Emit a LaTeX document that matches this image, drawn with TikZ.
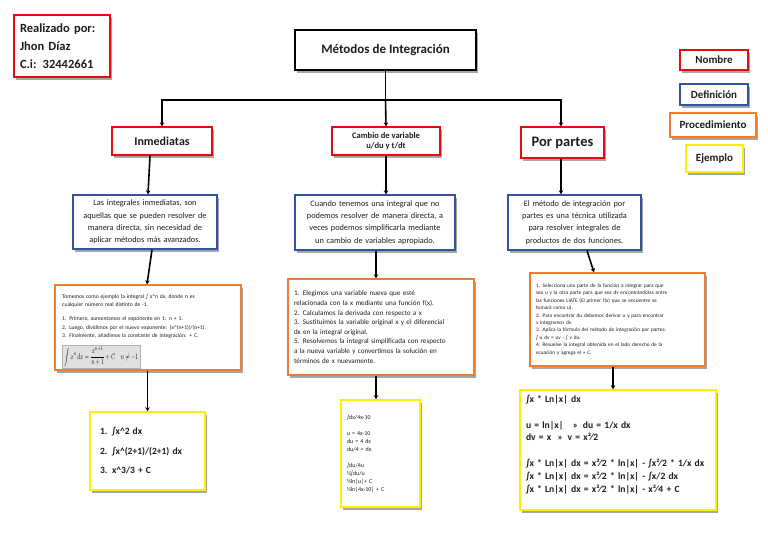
\documentclass[tikz,border=0pt]{standalone}
\usepackage{fontspec}
\setmainfont{Carlito}
\usetikzlibrary{shadows,arrows.meta}
\definecolor{cred}{RGB}{226,12,18}
\definecolor{cblue}{RGB}{47,85,160}
\definecolor{corange}{RGB}{237,125,49}
\definecolor{cyellow}{RGB}{255,240,0}
\definecolor{ctext}{RGB}{30,30,30}
\tikzset{
  box/.style={draw, fill=white, line width=1.3pt, inner sep=0pt, text=ctext,
    drop shadow={shadow xshift=2pt, shadow yshift=-2.5pt, fill=black, opacity=0.35}},
  redbox/.style={box, draw=cred},
  bluebox/.style={box, draw=cblue},
  orangebox/.style={box, draw=corange},
  yellowbox/.style={box, draw=cyellow, line width=1.6pt},
  blackbox/.style={box, draw=black, line width=1.6pt},
  formbox/.style={draw=black!30, fill=black!12, inner sep=2pt, line width=0.4pt},
  arr/.style={line width=1.6pt, -{Stealth[length=4pt,width=4.5pt]}},
  ln/.style={line width=1.8pt},
}
\begin{document}
\begin{tikzpicture}[x=1pt,y=-1pt]
\useasboundingbox (0,0) rectangle (768,542);
% author
\node[redbox, minimum width=96pt, minimum height=62pt, text width=84pt, align=left,
  font=\fontsize{12.5}{18}\selectfont\bfseries] (author) at (62,46)
  {Realizado por:\\Jhon Díaz\\C.i: 32442661};
% title
\node[blackbox, minimum width=181pt, minimum height=40pt, font=\fontsize{13}{15}\selectfont\bfseries]
  (title) at (385.5,50) {Métodos de Integración};
% legend
\node[redbox, minimum width=68pt, minimum height=20pt, font=\fontsize{11}{13}\selectfont\bfseries] (lnom) at (714,60) {Nombre};
\node[bluebox, minimum width=68pt, minimum height=21pt, font=\fontsize{11}{13}\selectfont\bfseries] (ldef) at (714,94.5) {Definición};
\node[orangebox, minimum width=86pt, minimum height=24pt, font=\fontsize{11}{13}\selectfont\bfseries] (lproc) at (713,125) {Procedimiento};
\node[yellowbox, minimum width=57pt, minimum height=27pt, font=\fontsize{11}{13}\selectfont\bfseries] (lej) at (714.5,158.5) {Ejemplo};
% names
\node[redbox, minimum width=100pt, minimum height=28pt, font=\fontsize{12}{14}\selectfont\bfseries] (inm) at (162,141) {Inmediatas};
\node[redbox, minimum width=108pt, minimum height=28pt, align=center, font=\fontsize{8.5}{10.5}\selectfont\bfseries] (cam) at (386,141) {Cambio de variable\\u/du y t/dt};
\node[redbox, minimum width=83pt, minimum height=31pt, font=\fontsize{14.5}{17}\selectfont\bfseries] (pp) at (562.5,142.5) {Por partes};
% definitions
\node[bluebox, minimum width=144pt, minimum height=54pt, text width=138pt, align=center,
  font=\fontsize{8.3}{12.3}\selectfont] (def1) at (145,222)
  {Las integrales inmediatas, son\\aquellas que se pueden resolver de\\manera directa, sin necesidad de\\aplicar métodos más avanzados.};
\node[bluebox, minimum width=160pt, minimum height=55pt, text width=154pt, align=center,
  font=\fontsize{8.3}{12.3}\selectfont] (def2) at (375,222.5)
  {Cuando tenemos una integral que no\\podemos resolver de manera directa, a\\veces podemos simplificarla mediante\\un cambio de variables apropiado.};
\node[bluebox, minimum width=133pt, minimum height=55pt, text width=127pt, align=center,
  font=\fontsize{8.3}{12.3}\selectfont] (def3) at (574.5,222.5)
  {El método de integración por\\partes es una técnica utilizada\\para resolver integrales de\\productos de dos funciones.};
% procedures
\node[orangebox, minimum width=186pt, minimum height=85pt] (proc1) at (148,327.5) {};
\node[anchor=north west, inner sep=0pt, text width=174pt, align=left, text=ctext,
  font=\fontsize{5.6}{8.5}\selectfont] (proc1t) at (62,293.5)
  {Tomemos como ejemplo la integral ∫ x\textasciicircum n dx, donde n es\\cualquier número real distinto de -1.\\[5.5pt]
   1. Primero, aumentamos el exponente en 1: n + 1.\\
   2. Luego, dividimos por el nuevo exponente: (x\textasciicircum(n+1))/(n+1).\\
   3. Finalmente, añadimos la constante de integración: + C.};
\node[formbox, anchor=north west] (f1) at (62,345)
  {\resizebox{74pt}{12pt}{$\displaystyle\int x^n\,dx=\frac{x^{n+1}}{n+1}+C\quad n\neq-1$}};
\node[orangebox, minimum width=186pt, minimum height=96pt, text width=174pt, align=left,
  font=\fontsize{7.1}{9.6}\selectfont] (proc2) at (381,327)
  {1. Elegimos una variable nueva que esté\\relacionada con la x mediante una función f(x).\\
   2. Calculamos la derivada con respecto a x\\
   3. Sustituimos la variable original x y el diferencial\\dx en la integral original.\\
   5. Resolvemos la integral simplificada con respecto\\a la nueva variable y convertimos la solución en\\términos de x nuevamente.};
\node[orangebox, minimum width=175pt, minimum height=93pt, text width=163pt, align=left,
  font=\fontsize{5.3}{7.4}\selectfont] (proc3) at (617.5,319.5)
  {1.\enspace Selecciona una parte de la función a integrar para que\\sea u y la otra parte para que sea dv encontrándolas entre\\las funciones LIATE (El primer f(x) que se encuentre se\\tomará como u).\\
   2.\enspace Para encontrar du debemos derivar u y para encontrar\\v integramos dv.\\
   3.\enspace Aplica la fórmula del método de integración por partes:\\∫ u dv = uv - ∫ v du.\\
   4.\enspace Resuelve la integral obtenida en el lado derecho de la\\ecuación y agrega el + C.};
% examples
\node[yellowbox, minimum width=115pt, minimum height=78pt, text width=95pt, align=left,
  font=\fontsize{9.5}{19.5}\selectfont\bfseries] (ex1) at (147.5,451)
  {1. ∫x\textasciicircum2 dx\\2. ∫x\textasciicircum(2+1)/(2+1) dx\\3. x\textasciicircum3/3 + C};
\node[yellowbox, minimum width=79pt, minimum height=107pt, text width=67pt, align=left,
  font=\fontsize{6}{8}\selectfont] (ex2) at (380.5,453.5)
  {∫dx/4x-10\\[8pt]u = 4x-10\\du = 4 dx\\du/4 = dx\\[8pt]∫du/4u\\¼∫du/u\\¼ln|u|+ C\\¼ln|4x-10| + C};
\node[yellowbox, minimum width=196pt, minimum height=120pt, text width=184pt, align=left,
  font=\fontsize{9.6}{12.8}\selectfont\bfseries] (ex3) at (618,450)
  {∫x * Ln|x| dx\\[12.8pt]
   u = ln|x|\quad»\enspace du = 1/x dx\\
   dv = x\enspace\,»\enspace v = x²⁄2\\[12.8pt]
   ∫x * Ln|x| dx = x²⁄2 * ln|x| - ∫x²⁄2 * 1/x dx\\
   ∫x * Ln|x| dx = x²⁄2 * ln|x| - ∫x/2 dx\\
   ∫x * Ln|x| dx = x²⁄2 * ln|x| - x²⁄4 + C\\~};
% connectors
\coordinate (bl) at (162,100);
\coordinate (bm) at (385.5,100);
\coordinate (br) at (561,100);
\draw[ln] (title.south) -- (bm);
\draw[ln] ([xshift=-1pt]bl) -- ([xshift=1pt]br);
\draw[arr] (bl) -- (inm.north);
\draw[arr] (bm) -- (cam.north);
\draw[arr] (br) -- ([xshift=-1.5pt]pp.north);
\draw[arr] ([xshift=-12pt]inm.south) -- ([xshift=3pt]def1.north);
\draw[arr] ([xshift=7pt]def1.south) -- ([xshift=-1pt]proc1.north);
\draw[arr] ([xshift=-0.5pt]proc1.south) -- (ex1.north);
\draw[arr] (cam.south) -- ([xshift=11pt]def2.north);
\draw[arr] ([xshift=1pt]def2.south) -- ([xshift=-5pt]proc2.north);
\draw[arr] ([xshift=-5pt]proc2.south) -- ([xshift=-4.5pt]ex2.north);
\draw[arr] ([xshift=-1.5pt]pp.south) -- ([xshift=-13.5pt]def3.north);
\draw[arr] ([xshift=12.5pt]def3.south) -- ([xshift=-23.5pt]proc3.north);
\draw[arr] ([xshift=-4.5pt]proc3.south) -- ([xshift=-5pt]ex3.north);
\end{tikzpicture}
\end{document}
